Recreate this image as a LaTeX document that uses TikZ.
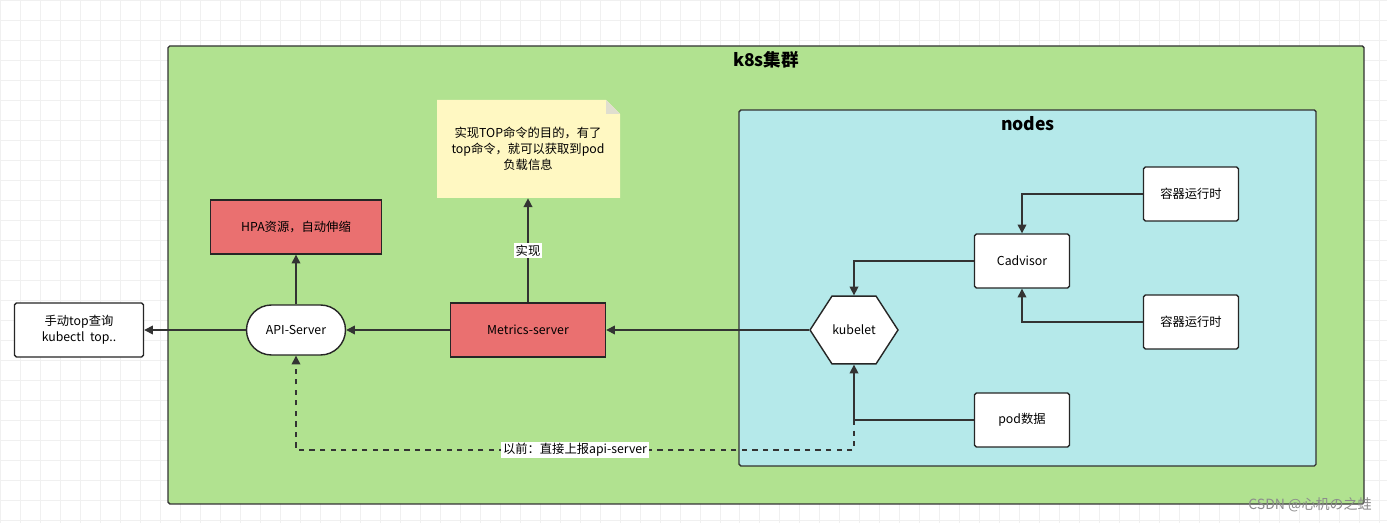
\documentclass[tikz,border=0pt]{standalone}
\usepackage{fontspec}
\setmainfont{Noto Sans CJK SC}
\usetikzlibrary{shapes.geometric,positioning,arrows.meta}
\definecolor{clustergreen}{HTML}{B1E290}
\definecolor{nodecyan}{HTML}{B5E9EA}
\definecolor{boxred}{HTML}{EA7070}
\definecolor{noteyellow}{HTML}{FFF8C2}
\tikzset{
  box/.style={draw=black!85, thick, fill=white, minimum width=1.9cm, minimum height=1.08cm, align=center, font=\fontsize{7}{9}\selectfont},
  redbox/.style={box, fill=boxred},
  conn/.style={thick, draw=black!80, -{Triangle[length=5pt,width=5pt]}},
}
\begin{document}
\begin{tikzpicture}[x=0.02cm, y=-0.02cm]
        \useasboundingbox (0,0) rectangle (1387,523);
        % grid
        \fill[white] (0,0) rectangle (1387,523);
        \draw[black!6, step=0.4cm] (0,0) grid (1387,523);

        % cluster
        \draw[thick, fill=clustergreen, draw=black!80, rounded corners=1pt] (168,46) rectangle (1364,504);
        \node[font=\fontsize{10}{12}\selectfont\bfseries] (k8s) at (766,60) {k8s集群};
        \draw[thick, fill=nodecyan, draw=black!80, rounded corners=1pt] (739,110) rectangle (1316,466);
        \node[font=\fontsize{10}{12}\selectfont\bfseries] (nodestitle) at (1028,124) {nodes};

        % note
        \fill[noteyellow] (437,100) -- (606,100) -- (620,114) -- (620,198) -- (437,198) -- cycle;
        \fill[noteyellow!70!black!40] (606,100) -- (606,114) -- (620,114) -- cycle;
        \node[align=center, font=\fontsize{7}{9}\selectfont, minimum width=3.66cm, minimum height=1.96cm] (note) at (528,149) {实现TOP命令的目的，有了\\top命令，就可以获取到pod\\负载信息};

        \node[redbox, minimum width=3.42cm] (hpa) at (296,227) {HPA资源，自动伸缩};
        \node[box, rounded corners=0.5cm, minimum width=1.98cm, minimum height=1cm] (api) at (296,330) {API-Server};
        \node[redbox, minimum width=3.1cm] (metrics) at (528,330) {Metrics-server};
        \node[box, minimum width=2.58cm, rounded corners=1pt] (manual) at (79,330) {手动top查询\\kubectl\ \ top..};
        \node[box, regular polygon, regular polygon sides=6, minimum size=1.6cm, inner sep=0pt,
              xscale=1.1, yscale=0.98] (kubelet) at (854,330) {};
        \node[font=\fontsize{7}{9}\selectfont] (kubelettext) at (854,330) {kubelet};
        \node[box, rounded corners=1pt] (cadvisor) at (1022,261) {Cadvisor};
        \node[box, rounded corners=1pt] (rt1) at (1191,194) {容器运行时};
        \node[box, rounded corners=1pt] (rt2) at (1191,322) {容器运行时};
        \node[box, rounded corners=1pt] (pod) at (1022,420) {pod数据};

        \draw[conn] (metrics) -- (api);
        \draw[conn] (api) -- (manual);
        \draw[conn] (api) -- (hpa);
        \draw[conn] (metrics) -- node[fill=white, inner sep=1pt, font=\fontsize{7}{9}\selectfont] {实现} (note);
        \draw[conn] (kubelet) -- (metrics);
        \draw[conn] (cadvisor.west) -| (kubelet.north);
        \draw[conn] (rt1.west) -| (cadvisor.north);
        \draw[conn] (rt2.west) -| (cadvisor.south);
        \draw[conn] (pod.west) -| (kubelet.south);
        \coordinate (dashtop) at (854,420);
        \draw[conn, dashed] (dashtop) -- (854,450) -- node[fill=white, inner sep=1pt, font=\fontsize{7}{9}\selectfont] {以前：直接上报api-server} (296,450) -- (api.south);

        \node[black!45, font=\fontsize{8}{10}\selectfont, anchor=east] (mark) at (1378,505) {CSDN @心机の之蛙};
    \end{tikzpicture}
\end{document}
